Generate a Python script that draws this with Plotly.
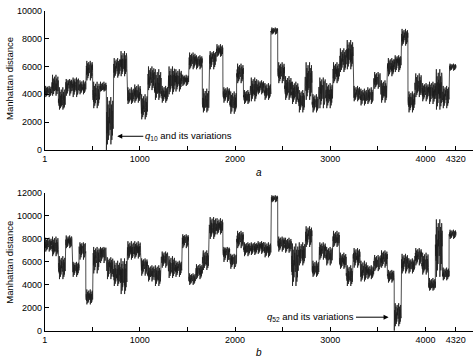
import plotly.graph_objects as go

# ---- data: 60 queries x 72 variations = 4320 images ----
BLOCK_SIZE = 72

# panel a: per-query band (typical level, lowest, highest)
a_center = [4200, 4500, 3400, 4700, 4700, 4500, 5800, 3900, 4400, 2000,
            5900, 6100, 3800, 4000, 3000, 5100, 4400, 4000, 4900, 5000,
            5000, 6400, 6300, 3300, 6600, 7050, 4000, 3400, 5500, 3800,
            4400, 4500, 4200, 8550, 5550, 4400, 4100, 3600, 4900, 3400,
            4300, 4000, 5500, 6400, 6800, 4000, 3800, 3900, 5000, 4300,
            6000, 6300, 8100, 3500, 4600, 4200, 4200, 4100, 3900, 5950]
a_low = [3800, 3900, 2900, 3900, 3800, 4000, 5000, 3000, 4200, 400,
         5200, 5300, 3300, 3400, 2200, 4300, 3600, 3400, 4000, 4200,
         4600, 5800, 5800, 2700, 5800, 6700, 3400, 2600, 4800, 3300,
         3500, 4000, 3600, 8300, 4800, 3600, 3300, 2700, 3600, 2700,
         3000, 3000, 4800, 5600, 5800, 3500, 3200, 3300, 4400, 3400,
         5300, 5600, 7500, 2700, 3800, 3500, 3300, 2900, 3000, 5700]
a_high = [4600, 5400, 4500, 5100, 5200, 5000, 6400, 4900, 4900, 3800,
          6600, 7100, 4500, 4700, 4000, 6000, 5800, 4600, 6000, 5800,
          5400, 7000, 6800, 4400, 7100, 7600, 4500, 4200, 6200, 4300,
          5200, 5000, 4800, 8800, 6300, 5300, 4900, 4300, 6300, 4000,
          5200, 4800, 6300, 7300, 7900, 4600, 4400, 4500, 5600, 5000,
          6600, 6800, 8700, 4200, 5500, 4800, 4900, 5800, 4600, 6200]
a_query = 10   # q10 compared with itself -> distance 0

# panel b
b_center = [7500, 7300, 5500, 7700, 5500, 7200, 2900, 6400, 6900, 5600,
            4900, 4700, 6900, 7000, 5700, 5000, 4900, 6300, 5500, 5500,
            7900, 4500, 5200, 6200, 9000, 9000, 6900, 6200, 8000, 7200,
            7200, 7300, 7000, 11500, 7600, 7400, 5800, 6600, 8300, 5300,
            7000, 6500, 7900, 6000, 4800, 6500, 5100, 5100, 5900, 6300,
            4800, 1400, 5900, 5700, 6500, 5800, 3900, 7500, 4900, 8400]
b_low = [6900, 6500, 4500, 7200, 4700, 6200, 2300, 5000, 5900, 4500,
         3900, 3200, 6200, 6300, 4800, 4300, 3900, 5500, 4600, 4700,
         7200, 4000, 4500, 5300, 8000, 8400, 6000, 5400, 7200, 6500,
         6600, 6700, 6400, 11200, 6900, 6800, 3900, 5700, 7300, 4700,
         6200, 5700, 7300, 5400, 3900, 5500, 4300, 4500, 5200, 5500,
         4200, 400, 5000, 5000, 5700, 4900, 3500, 4700, 4400, 8000]
b_high = [8100, 8200, 6500, 8300, 6000, 7700, 3600, 7300, 7300, 6400,
          6100, 6300, 7800, 7800, 6300, 5700, 5700, 6900, 6500, 6100,
          8400, 5000, 5800, 7000, 9900, 9800, 7300, 6700, 8700, 7700,
          7700, 7800, 7700, 11800, 8200, 8100, 7600, 7700, 9100, 6100,
          7700, 7300, 8700, 6800, 5700, 7200, 6100, 5700, 6600, 7000,
          5300, 2400, 6700, 6300, 7200, 6800, 4600, 9700, 5500, 8800]
b_query = 52

# relative spread of the 72 variations inside a band (-1 = lowest, 1 = highest)
variation_shape = [0.0, 0.25, -0.2, 0.1, -0.35, 0.4, -0.15, 0.2, -0.5, 0.05,
                   1.0, -1.0, 0.3, -0.1, 0.35, -0.3, 0.05, -0.4, 0.7, -0.2,
                   0.15, -0.8, 0.3, -0.05, 0.45, -0.25, 0.2, -0.6, 0.1, -0.15,
                   0.85, -0.45, 0.25, -0.05, 0.55, -0.3]

x_ticks = [1, 1000, 2000, 3000, 4000, 4320]
x_minor = [500, 1500, 2500, 3500]
ya_ticks = [0, 2000, 4000, 6000, 8000, 10000]
yb_ticks = [0, 2000, 4000, 6000, 8000, 10000, 12000]


def expand(center, low, high, query):
    ys = []
    for k, (c, lo, hi) in enumerate(zip(center, low, high), start=1):
        for j in range(BLOCK_SIZE):
            f = variation_shape[j % len(variation_shape)]
            v = c + f * (hi - c) if f >= 0 else c + f * (c - lo)
            if k == query and j == 0:
                v = 0
            ys.append(v)
    return ys


xs = list(range(1, len(a_center) * BLOCK_SIZE + 1))
ya = expand(a_center, a_low, a_high, a_query)
yb = expand(b_center, b_low, b_high, b_query)

W, H = 474, 364
FONT = "Liberation Sans, Arial, sans-serif"
LINE = dict(color="#1e1e1e", width=0.8)

fig = go.Figure()
fig.add_trace(go.Scatter(x=xs, y=ya, mode="lines", line=LINE, xaxis="x", yaxis="y",
                         showlegend=False, hoverinfo="skip"))
fig.add_trace(go.Scatter(x=xs, y=yb, mode="lines", line=LINE, xaxis="x2", yaxis="y2",
                         showlegend=False, hoverinfo="skip"))

xdom = [42 / W, 473 / W]
xaxis_common = dict(range=[1, 4500], domain=xdom, tickvals=x_ticks,
                    ticktext=[str(t) for t in x_ticks], ticks="inside", ticklen=4,
                    tickcolor="black", showline=True, linecolor="black", linewidth=1,
                    showgrid=False, zeroline=False,
                    tickfont=dict(family=FONT, size=9, color="black"),
                    minor=dict(tickvals=x_minor, ticks="inside", ticklen=4,
                               tickcolor="black", showgrid=False))
yaxis_common = dict(ticks="inside", ticklen=4, tickcolor="black", showline=True,
                    linecolor="black", linewidth=1, showgrid=False, zeroline=False,
                    tickfont=dict(family=FONT, size=9, color="black"))

fig.update_layout(
    width=W, height=H, autosize=False,
    margin=dict(l=0, r=0, t=0, b=0),
    paper_bgcolor="white", plot_bgcolor="white",
    xaxis=dict(anchor="y", **xaxis_common),
    xaxis2=dict(anchor="y2", **xaxis_common),
    yaxis=dict(anchor="x", domain=[1 - 149 / H, 1 - 6 / H], range=[0, 10000],
               tickvals=ya_ticks, ticktext=[str(t) for t in ya_ticks], **yaxis_common),
    yaxis2=dict(anchor="x2", domain=[1 - 335 / H, 1 - 193.3 / H], range=[0, 12000],
                tickvals=yb_ticks, ticktext=[str(t) for t in yb_ticks], **yaxis_common),
)

ann_font = dict(family=FONT, size=9.5, color="black")
annotations = [
    # y titles
    dict(text="Manhattan distance", x=7 / W, y=1 - 75 / H, xref="paper", yref="paper",
         xanchor="center", yanchor="middle",
         textangle=-90, showarrow=False, font=ann_font),
    dict(text="Manhattan distance", x=7 / W, y=1 - 264 / H, xref="paper", yref="paper",
         xanchor="center", yanchor="middle",
         textangle=-90, showarrow=False, font=ann_font),
    # panel letters
    dict(text="<i>a</i>", x=258 / W, y=1 - 172 / H, xref="paper", yref="paper",
         xanchor="center", yanchor="middle",
         showarrow=False, font=dict(family=FONT, size=10, color="black")),
    dict(text="<i>b</i>", x=258 / W, y=1 - 357 / H, xref="paper", yref="paper",
         xanchor="center", yanchor="middle",
         showarrow=False, font=dict(family=FONT, size=10, color="black")),
    # q10 label with arrow
    dict(x=763, y=980, ax=1509, ay=980, xref="x", yref="y", axref="x", ayref="y",
         text="<i>q</i><sub>10</sub> and its variations", font=ann_font,
         showarrow=True, arrowhead=2, arrowsize=1, arrowwidth=1, arrowcolor="black"),
    # q52 label with arrow
    dict(x=3613, y=1185, ax=2798, ay=1185, xref="x2", yref="y2", axref="x2", ayref="y2",
         text="<i>q</i><sub>52</sub> and its variations", font=ann_font,
         showarrow=True, arrowhead=2, arrowsize=1, arrowwidth=1, arrowcolor="black"),
]
fig.update_layout(annotations=annotations)

fig.write_html("out.html", config={"displayModeBar": False},
               post_script="document.body.style.margin='0';")
